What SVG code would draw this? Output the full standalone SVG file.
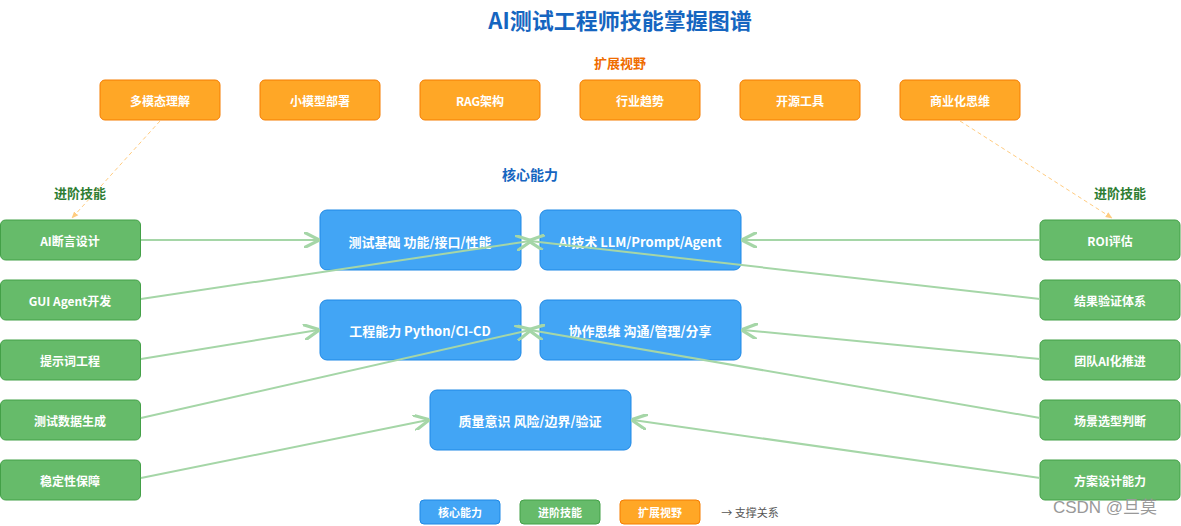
<svg xmlns="http://www.w3.org/2000/svg" width="1181" height="526" viewBox="0 0 1181 526">
<style>
text{font-family:"Noto Sans CJK SC","Liberation Sans",sans-serif;font-weight:bold;text-anchor:middle;dominant-baseline:central}
.core{fill:#42a5f5;stroke:#1e88e5;stroke-width:1}
.adv{fill:#66bb6a;stroke:#43a047;stroke-width:1}
.exp{fill:#ffa726;stroke:#f57c00;stroke-width:1}
.t{fill:#fff;font-size:12px}
.tc{fill:#fff;font-size:13px}
.e{stroke:#a5d6a7;stroke-width:2;fill:none;marker-end:url(#ag)}
.d{stroke:#ffcc80;stroke-width:1;stroke-dasharray:4 3;fill:none;marker-end:url(#ao)}
</style>
<defs>
<marker id="ag" viewBox="0 0 10 10" refX="9" refY="5" markerWidth="8" markerHeight="8" orient="auto"><path d="M0,0L10,5L0,10" fill="none" stroke="#a5d6a7" stroke-width="2"/></marker>
<marker id="ao" viewBox="0 0 10 10" refX="9" refY="5" markerWidth="7" markerHeight="7" orient="auto"><path d="M0,1L10,5L0,9z" fill="#ffcc80"/></marker>
</defs>
<rect width="1181" height="526" fill="#fff"/>
<text x="620" y="19" style="font-size:22px;fill:#1565c0">AI测试工程师技能掌握图谱</text>
<text x="620" y="62" style="font-size:13px;fill:#ef6c00">扩展视野</text>
<text x="530" y="174" style="font-size:14px;fill:#1565c0">核心能力</text>
<text x="80" y="192" style="font-size:13px;fill:#2e7d32">进阶技能</text>
<text x="1120" y="192" style="font-size:13px;fill:#2e7d32">进阶技能</text>
<g id="exp1"><rect class="exp" x="100" y="80" width="120" height="40" rx="5"/><text class="t" x="160" y="100">多模态理解</text></g>
<g id="exp2"><rect class="exp" x="260" y="80" width="120" height="40" rx="5"/><text class="t" x="320" y="100">小模型部署</text></g>
<g id="exp3"><rect class="exp" x="420" y="80" width="120" height="40" rx="5"/><text class="t" x="480" y="100">RAG架构</text></g>
<g id="exp4"><rect class="exp" x="580" y="80" width="120" height="40" rx="5"/><text class="t" x="640" y="100">行业趋势</text></g>
<g id="exp5"><rect class="exp" x="740" y="80" width="120" height="40" rx="5"/><text class="t" x="800" y="100">开源工具</text></g>
<g id="exp6"><rect class="exp" x="900" y="80" width="120" height="40" rx="5"/><text class="t" x="960" y="100">商业化思维</text></g>
<g id="core1"><rect class="core" x="320" y="210" width="201" height="60" rx="7"/><text class="tc" x="420" y="241">测试基础 功能/接口/性能</text></g>
<g id="core2"><rect class="core" x="540" y="210" width="201" height="60" rx="7"/><text class="tc" x="640" y="241">AI技术 LLM/Prompt/Agent</text></g>
<g id="core3"><rect class="core" x="320" y="300" width="201" height="60" rx="7"/><text class="tc" x="420" y="330">工程能力 Python/CI-CD</text></g>
<g id="core4"><rect class="core" x="540" y="300" width="201" height="60" rx="7"/><text class="tc" x="640" y="330">协作思维 沟通/管理/分享</text></g>
<g id="core5"><rect class="core" x="430" y="390" width="201" height="60" rx="7"/><text class="tc" x="530" y="420">质量意识 风险/边界/验证</text></g>
<g id="l1"><rect class="adv" x="0.5" y="220" width="140" height="40" rx="5"/><text class="t" x="70" y="240">AI断言设计</text></g>
<g id="l2"><rect class="adv" x="0.5" y="280" width="140" height="40" rx="5"/><text class="t" x="70" y="300">GUI Agent开发</text></g>
<g id="l3"><rect class="adv" x="0.5" y="340" width="140" height="40" rx="5"/><text class="t" x="70" y="360">提示词工程</text></g>
<g id="l4"><rect class="adv" x="0.5" y="400" width="140" height="40" rx="5"/><text class="t" x="70" y="420">测试数据生成</text></g>
<g id="l5"><rect class="adv" x="0.5" y="460" width="140" height="40" rx="5"/><text class="t" x="70" y="480">稳定性保障</text></g>
<g id="r1"><rect class="adv" x="1040" y="220" width="140" height="40" rx="5"/><text class="t" x="1110" y="240">ROI评估</text></g>
<g id="r2"><rect class="adv" x="1040" y="280" width="140" height="40" rx="5"/><text class="t" x="1110" y="300">结果验证体系</text></g>
<g id="r3"><rect class="adv" x="1040" y="340" width="140" height="40" rx="5"/><text class="t" x="1110" y="360">团队AI化推进</text></g>
<g id="r4"><rect class="adv" x="1040" y="400" width="140" height="40" rx="5"/><text class="t" x="1110" y="420">场景选型判断</text></g>
<g id="r5"><rect class="adv" x="1040" y="460" width="140" height="40" rx="5"/><text class="t" x="1110" y="480">方案设计能力</text></g>
<g id="connectors">
<line class="d" x1="160" y1="121" x2="72" y2="218"/>
<line class="d" x1="960" y1="121" x2="1112" y2="218"/>
<line class="e" x1="141" y1="240" x2="318" y2="240"/>
<line class="e" x1="141" y1="299" x2="530" y2="241"/>
<line class="e" x1="141" y1="359" x2="318" y2="330"/>
<line class="e" x1="141" y1="418" x2="530" y2="330"/>
<line class="e" x1="141" y1="478" x2="428" y2="420"/>
<line class="e" x1="1040" y1="240" x2="743" y2="240"/>
<line class="e" x1="1040" y1="299" x2="530" y2="241"/>
<line class="e" x1="1040" y1="359" x2="743" y2="330"/>
<line class="e" x1="1040" y1="418" x2="530" y2="330"/>
<line class="e" x1="1040" y1="478" x2="633" y2="420"/>
</g>
<g id="legend">
<rect class="core" x="420" y="500" width="80" height="24" rx="4"/><text class="t" x="460" y="512" style="font-size:11px">核心能力</text>
<rect class="adv" x="520" y="500" width="80" height="24" rx="4"/><text class="t" x="560" y="512" style="font-size:11px">进阶技能</text>
<rect class="exp" x="620" y="500" width="80" height="24" rx="4"/><text class="t" x="660" y="512" style="font-size:11px">扩展视野</text>
<text x="750" y="512" style="font-size:11px;font-weight:normal;fill:#555">→ 支撑关系</text>
</g>
<text x="1105" y="507" style="font-size:17px;font-weight:normal;fill:#999;font-family:'Liberation Sans','Noto Sans CJK SC',sans-serif">CSDN @旦莫</text>
</svg>
